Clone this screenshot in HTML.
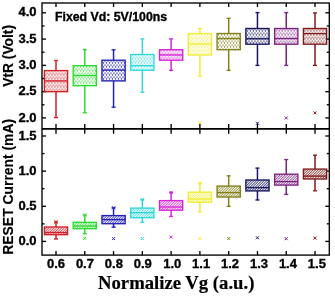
<!DOCTYPE html><html><head><meta charset="utf-8"><style>html,body{margin:0;padding:0;background:#fff;width:335px;height:297px;overflow:hidden}svg{display:block;will-change:transform;filter:blur(0.3px)}text{font-family:"Liberation Sans",sans-serif;font-weight:bold;fill:#000;stroke:#000;stroke-width:0.35px}</style></head><body>
<svg width="335" height="297" viewBox="0 0 335 297">
<defs>
<pattern id="pu0" width="3" height="4" patternUnits="userSpaceOnUse" x="44.40"><rect width="3" height="4" fill="#D41E26"/><ellipse cx="1.5" cy="1" rx="1.4" ry="1.05" fill="#fff"/><ellipse cx="0" cy="3" rx="1.4" ry="1.05" fill="#fff"/><ellipse cx="3" cy="3" rx="1.4" ry="1.05" fill="#fff"/></pattern>
<pattern id="pl0" width="1.8" height="3" patternUnits="userSpaceOnUse" patternTransform="rotate(45)"><rect width="1.8" height="3" fill="#D41E26"/><rect x="0" width="1.1" height="3" fill="#fff"/></pattern>
<pattern id="pu1" width="3" height="4" patternUnits="userSpaceOnUse" x="73.18"><rect width="3" height="4" fill="#2ADC30"/><ellipse cx="1.5" cy="1" rx="1.4" ry="1.05" fill="#fff"/><ellipse cx="0" cy="3" rx="1.4" ry="1.05" fill="#fff"/><ellipse cx="3" cy="3" rx="1.4" ry="1.05" fill="#fff"/></pattern>
<pattern id="pl1" width="1.8" height="3" patternUnits="userSpaceOnUse" patternTransform="rotate(45)"><rect width="1.8" height="3" fill="#2ADC30"/><rect x="0" width="1.1" height="3" fill="#fff"/></pattern>
<pattern id="pu2" width="3" height="4" patternUnits="userSpaceOnUse" x="101.96"><rect width="3" height="4" fill="#2222B8"/><ellipse cx="1.5" cy="1" rx="1.4" ry="1.05" fill="#fff"/><ellipse cx="0" cy="3" rx="1.4" ry="1.05" fill="#fff"/><ellipse cx="3" cy="3" rx="1.4" ry="1.05" fill="#fff"/></pattern>
<pattern id="pl2" width="1.8" height="3" patternUnits="userSpaceOnUse" patternTransform="rotate(45)"><rect width="1.8" height="3" fill="#2222B8"/><rect x="0" width="1.1" height="3" fill="#fff"/></pattern>
<pattern id="pu3" width="3" height="4" patternUnits="userSpaceOnUse" x="130.74"><rect width="3" height="4" fill="#30D8DC"/><ellipse cx="1.5" cy="1" rx="1.4" ry="1.05" fill="#fff"/><ellipse cx="0" cy="3" rx="1.4" ry="1.05" fill="#fff"/><ellipse cx="3" cy="3" rx="1.4" ry="1.05" fill="#fff"/></pattern>
<pattern id="pl3" width="1.8" height="3" patternUnits="userSpaceOnUse" patternTransform="rotate(45)"><rect width="1.8" height="3" fill="#30D8DC"/><rect x="0" width="1.1" height="3" fill="#fff"/></pattern>
<pattern id="pu4" width="3" height="4" patternUnits="userSpaceOnUse" x="159.52"><rect width="3" height="4" fill="#D624D6"/><ellipse cx="1.5" cy="1" rx="1.4" ry="1.05" fill="#fff"/><ellipse cx="0" cy="3" rx="1.4" ry="1.05" fill="#fff"/><ellipse cx="3" cy="3" rx="1.4" ry="1.05" fill="#fff"/></pattern>
<pattern id="pl4" width="1.8" height="3" patternUnits="userSpaceOnUse" patternTransform="rotate(45)"><rect width="1.8" height="3" fill="#D624D6"/><rect x="0" width="1.1" height="3" fill="#fff"/></pattern>
<pattern id="pu5" width="3" height="4" patternUnits="userSpaceOnUse" x="188.30"><rect width="3" height="4" fill="#F0EE36"/><ellipse cx="1.5" cy="1" rx="1.4" ry="1.05" fill="#fff"/><ellipse cx="0" cy="3" rx="1.4" ry="1.05" fill="#fff"/><ellipse cx="3" cy="3" rx="1.4" ry="1.05" fill="#fff"/></pattern>
<pattern id="pl5" width="1.8" height="3" patternUnits="userSpaceOnUse" patternTransform="rotate(45)"><rect width="1.8" height="3" fill="#F0EE36"/><rect x="0" width="1.1" height="3" fill="#fff"/></pattern>
<pattern id="pu6" width="3" height="4" patternUnits="userSpaceOnUse" x="217.08"><rect width="3" height="4" fill="#808016"/><ellipse cx="1.5" cy="1" rx="1.4" ry="1.05" fill="#fff"/><ellipse cx="0" cy="3" rx="1.4" ry="1.05" fill="#fff"/><ellipse cx="3" cy="3" rx="1.4" ry="1.05" fill="#fff"/></pattern>
<pattern id="pl6" width="1.8" height="3" patternUnits="userSpaceOnUse" patternTransform="rotate(45)"><rect width="1.8" height="3" fill="#808016"/><rect x="0" width="1.1" height="3" fill="#fff"/></pattern>
<pattern id="pu7" width="3" height="4" patternUnits="userSpaceOnUse" x="245.86"><rect width="3" height="4" fill="#16165E"/><ellipse cx="1.5" cy="1" rx="1.4" ry="1.05" fill="#fff"/><ellipse cx="0" cy="3" rx="1.4" ry="1.05" fill="#fff"/><ellipse cx="3" cy="3" rx="1.4" ry="1.05" fill="#fff"/></pattern>
<pattern id="pl7" width="1.8" height="3" patternUnits="userSpaceOnUse" patternTransform="rotate(45)"><rect width="1.8" height="3" fill="#16165E"/><rect x="0" width="1.1" height="3" fill="#fff"/></pattern>
<pattern id="pu8" width="3" height="4" patternUnits="userSpaceOnUse" x="274.64"><rect width="3" height="4" fill="#7E2282"/><ellipse cx="1.5" cy="1" rx="1.4" ry="1.05" fill="#fff"/><ellipse cx="0" cy="3" rx="1.4" ry="1.05" fill="#fff"/><ellipse cx="3" cy="3" rx="1.4" ry="1.05" fill="#fff"/></pattern>
<pattern id="pl8" width="1.8" height="3" patternUnits="userSpaceOnUse" patternTransform="rotate(45)"><rect width="1.8" height="3" fill="#7E2282"/><rect x="0" width="1.1" height="3" fill="#fff"/></pattern>
<pattern id="pu9" width="3" height="4" patternUnits="userSpaceOnUse" x="303.42"><rect width="3" height="4" fill="#7E1A1A"/><ellipse cx="1.5" cy="1" rx="1.4" ry="1.05" fill="#fff"/><ellipse cx="0" cy="3" rx="1.4" ry="1.05" fill="#fff"/><ellipse cx="3" cy="3" rx="1.4" ry="1.05" fill="#fff"/></pattern>
<pattern id="pl9" width="1.8" height="3" patternUnits="userSpaceOnUse" patternTransform="rotate(45)"><rect width="1.8" height="3" fill="#7E1A1A"/><rect x="0" width="1.1" height="3" fill="#fff"/></pattern>
</defs>
<g stroke="#000" stroke-width="1.35" fill="none">
<rect x="42" y="3" width="287.3" height="252.1"/>
<line x1="42" y1="128.8" x2="329.3" y2="128.8" stroke-width="1.7"/>
<line x1="56.00" y1="3" x2="56.00" y2="7"/>
<line x1="56.00" y1="123.9" x2="56.00" y2="133.8"/>
<line x1="56.00" y1="251.1" x2="56.00" y2="255.1"/>
<line x1="84.78" y1="3" x2="84.78" y2="7"/>
<line x1="84.78" y1="123.9" x2="84.78" y2="133.8"/>
<line x1="84.78" y1="251.1" x2="84.78" y2="255.1"/>
<line x1="113.56" y1="3" x2="113.56" y2="7"/>
<line x1="113.56" y1="123.9" x2="113.56" y2="133.8"/>
<line x1="113.56" y1="251.1" x2="113.56" y2="255.1"/>
<line x1="142.34" y1="3" x2="142.34" y2="7"/>
<line x1="142.34" y1="123.9" x2="142.34" y2="133.8"/>
<line x1="142.34" y1="251.1" x2="142.34" y2="255.1"/>
<line x1="171.12" y1="3" x2="171.12" y2="7"/>
<line x1="171.12" y1="123.9" x2="171.12" y2="133.8"/>
<line x1="171.12" y1="251.1" x2="171.12" y2="255.1"/>
<line x1="199.90" y1="3" x2="199.90" y2="7"/>
<line x1="199.90" y1="123.9" x2="199.90" y2="133.8"/>
<line x1="199.90" y1="251.1" x2="199.90" y2="255.1"/>
<line x1="228.68" y1="3" x2="228.68" y2="7"/>
<line x1="228.68" y1="123.9" x2="228.68" y2="133.8"/>
<line x1="228.68" y1="251.1" x2="228.68" y2="255.1"/>
<line x1="257.46" y1="3" x2="257.46" y2="7"/>
<line x1="257.46" y1="123.9" x2="257.46" y2="133.8"/>
<line x1="257.46" y1="251.1" x2="257.46" y2="255.1"/>
<line x1="286.24" y1="3" x2="286.24" y2="7"/>
<line x1="286.24" y1="123.9" x2="286.24" y2="133.8"/>
<line x1="286.24" y1="251.1" x2="286.24" y2="255.1"/>
<line x1="315.02" y1="3" x2="315.02" y2="7"/>
<line x1="315.02" y1="123.9" x2="315.02" y2="133.8"/>
<line x1="315.02" y1="251.1" x2="315.02" y2="255.1"/>
<line x1="42" y1="12.80" x2="46" y2="12.80"/>
<line x1="325.3" y1="12.80" x2="329.3" y2="12.80"/>
<line x1="42" y1="25.94" x2="44.5" y2="25.94"/>
<line x1="326.8" y1="25.94" x2="329.3" y2="25.94"/>
<line x1="42" y1="39.08" x2="46" y2="39.08"/>
<line x1="325.3" y1="39.08" x2="329.3" y2="39.08"/>
<line x1="42" y1="52.22" x2="44.5" y2="52.22"/>
<line x1="326.8" y1="52.22" x2="329.3" y2="52.22"/>
<line x1="42" y1="65.36" x2="46" y2="65.36"/>
<line x1="325.3" y1="65.36" x2="329.3" y2="65.36"/>
<line x1="42" y1="78.50" x2="44.5" y2="78.50"/>
<line x1="326.8" y1="78.50" x2="329.3" y2="78.50"/>
<line x1="42" y1="91.64" x2="46" y2="91.64"/>
<line x1="325.3" y1="91.64" x2="329.3" y2="91.64"/>
<line x1="42" y1="104.78" x2="44.5" y2="104.78"/>
<line x1="326.8" y1="104.78" x2="329.3" y2="104.78"/>
<line x1="42" y1="117.92" x2="46" y2="117.92"/>
<line x1="325.3" y1="117.92" x2="329.3" y2="117.92"/>
<line x1="42" y1="136.00" x2="46" y2="136.00"/>
<line x1="325.3" y1="136.00" x2="329.3" y2="136.00"/>
<line x1="42" y1="153.57" x2="44.5" y2="153.57"/>
<line x1="326.8" y1="153.57" x2="329.3" y2="153.57"/>
<line x1="42" y1="171.14" x2="46" y2="171.14"/>
<line x1="325.3" y1="171.14" x2="329.3" y2="171.14"/>
<line x1="42" y1="188.71" x2="44.5" y2="188.71"/>
<line x1="326.8" y1="188.71" x2="329.3" y2="188.71"/>
<line x1="42" y1="206.28" x2="46" y2="206.28"/>
<line x1="325.3" y1="206.28" x2="329.3" y2="206.28"/>
<line x1="42" y1="223.85" x2="44.5" y2="223.85"/>
<line x1="326.8" y1="223.85" x2="329.3" y2="223.85"/>
<line x1="42" y1="241.42" x2="46" y2="241.42"/>
<line x1="325.3" y1="241.42" x2="329.3" y2="241.42"/>
</g>
<g stroke="#D41E26" stroke-width="1.35">
<line x1="56.00" y1="60.5" x2="56.00" y2="117.6" stroke-width="1.5"/>
<line x1="54.00" y1="60.5" x2="58.00" y2="60.5"/>
<line x1="54.00" y1="117.6" x2="58.00" y2="117.6"/>
<rect x="44.40" y="70.6" width="23.2" height="21.10" fill="url(#pu0)"/>
<line x1="44.40" y1="80.9" x2="67.60" y2="80.9"/>
</g>
<g stroke="#2ADC30" stroke-width="1.35">
<line x1="84.78" y1="49.7" x2="84.78" y2="112.7" stroke-width="1.5"/>
<line x1="82.78" y1="49.7" x2="86.78" y2="49.7"/>
<line x1="82.78" y1="112.7" x2="86.78" y2="112.7"/>
<rect x="73.18" y="65.7" width="23.2" height="20.00" fill="url(#pu1)"/>
<line x1="73.18" y1="75.6" x2="96.38" y2="75.6"/>
</g>
<g stroke="#2222B8" stroke-width="1.35">
<line x1="113.56" y1="49.8" x2="113.56" y2="107.2" stroke-width="1.5"/>
<line x1="111.56" y1="49.8" x2="115.56" y2="49.8"/>
<line x1="111.56" y1="107.2" x2="115.56" y2="107.2"/>
<rect x="101.96" y="60.2" width="23.2" height="20.70" fill="url(#pu2)"/>
<line x1="101.96" y1="70.1" x2="125.16" y2="70.1"/>
</g>
<g stroke="#30D8DC" stroke-width="1.35">
<line x1="142.34" y1="38.9" x2="142.34" y2="92.2" stroke-width="1.5"/>
<line x1="140.34" y1="38.9" x2="144.34" y2="38.9"/>
<line x1="140.34" y1="92.2" x2="144.34" y2="92.2"/>
<rect x="130.74" y="54.5" width="23.2" height="15.70" fill="url(#pu3)"/>
<line x1="130.74" y1="65.7" x2="153.94" y2="65.7"/>
</g>
<g stroke="#D624D6" stroke-width="1.35">
<line x1="171.12" y1="38.9" x2="171.12" y2="70.3" stroke-width="1.5"/>
<line x1="169.12" y1="38.9" x2="173.12" y2="38.9"/>
<line x1="169.12" y1="70.3" x2="173.12" y2="70.3"/>
<rect x="159.52" y="49.7" width="23.2" height="10.50" fill="url(#pu4)"/>
<line x1="159.52" y1="55" x2="182.72" y2="55"/>
</g>
<g stroke="#F0EE36" stroke-width="1.35">
<line x1="199.90" y1="28.6" x2="199.90" y2="76" stroke-width="1.5"/>
<line x1="197.90" y1="28.6" x2="201.90" y2="28.6"/>
<line x1="197.90" y1="76" x2="201.90" y2="76"/>
<rect x="188.30" y="33.6" width="23.2" height="21.40" fill="url(#pu5)"/>
<line x1="188.30" y1="44" x2="211.50" y2="44"/>
</g>
<g stroke="#F0EE36" stroke-width="1"><line x1="198.40" y1="121.4" x2="201.40" y2="124.4"/><line x1="198.40" y1="124.4" x2="201.40" y2="121.4"/></g>
<g stroke="#808016" stroke-width="1.35">
<line x1="228.68" y1="18.3" x2="228.68" y2="70.4" stroke-width="1.5"/>
<line x1="226.68" y1="18.3" x2="230.68" y2="18.3"/>
<line x1="226.68" y1="70.4" x2="230.68" y2="70.4"/>
<rect x="217.08" y="33.5" width="23.2" height="16.20" fill="url(#pu6)"/>
<line x1="217.08" y1="38.6" x2="240.28" y2="38.6"/>
</g>
<g stroke="#16165E" stroke-width="1.35">
<line x1="257.46" y1="12.6" x2="257.46" y2="65.4" stroke-width="1.5"/>
<line x1="255.46" y1="12.6" x2="259.46" y2="12.6"/>
<line x1="255.46" y1="65.4" x2="259.46" y2="65.4"/>
<rect x="245.86" y="28.5" width="23.2" height="15.70" fill="url(#pu7)"/>
<line x1="245.86" y1="38.8" x2="269.06" y2="38.8"/>
</g>
<g stroke="#16165E" stroke-width="1"><line x1="255.96" y1="121.7" x2="258.96" y2="124.7"/><line x1="255.96" y1="124.7" x2="258.96" y2="121.7"/></g>
<g stroke="#7E2282" stroke-width="1.35">
<line x1="286.24" y1="12.6" x2="286.24" y2="65.4" stroke-width="1.5"/>
<line x1="284.24" y1="12.6" x2="288.24" y2="12.6"/>
<line x1="284.24" y1="65.4" x2="288.24" y2="65.4"/>
<rect x="274.64" y="28.5" width="23.2" height="15.70" fill="url(#pu8)"/>
<line x1="274.64" y1="38.6" x2="297.84" y2="38.6"/>
</g>
<g stroke="#7E2282" stroke-width="1"><line x1="284.74" y1="116.4" x2="287.74" y2="119.4"/><line x1="284.74" y1="119.4" x2="287.74" y2="116.4"/></g>
<g stroke="#7E1A1A" stroke-width="1.35">
<line x1="315.02" y1="12.9" x2="315.02" y2="65.4" stroke-width="1.5"/>
<line x1="313.02" y1="12.9" x2="317.02" y2="12.9"/>
<line x1="313.02" y1="65.4" x2="317.02" y2="65.4"/>
<rect x="303.42" y="28.5" width="23.2" height="15.70" fill="url(#pu9)"/>
<line x1="303.42" y1="33.6" x2="326.62" y2="33.6"/>
</g>
<g stroke="#7E1A1A" stroke-width="1"><line x1="313.52" y1="111.4" x2="316.52" y2="114.4"/><line x1="313.52" y1="114.4" x2="316.52" y2="111.4"/></g>
<g stroke="#D41E26" stroke-width="1.35">
<line x1="56.00" y1="222" x2="56.00" y2="239" stroke-width="1.5"/>
<line x1="54.00" y1="222" x2="58.00" y2="222"/>
<line x1="54.00" y1="239" x2="58.00" y2="239"/>
<rect x="44.40" y="227" width="23.2" height="7.70" fill="url(#pl0)"/>
<line x1="44.40" y1="232.5" x2="67.60" y2="232.5"/>
</g>
<g stroke="#D41E26" stroke-width="1"><line x1="54.40" y1="220.4" x2="57.60" y2="223.6"/><line x1="54.40" y1="223.6" x2="57.60" y2="220.4"/></g>
<g stroke="#2ADC30" stroke-width="1.35">
<line x1="84.78" y1="215" x2="84.78" y2="233.7" stroke-width="1.5"/>
<line x1="82.78" y1="215" x2="86.78" y2="215"/>
<line x1="82.78" y1="233.7" x2="86.78" y2="233.7"/>
<rect x="73.18" y="222.3" width="23.2" height="6.40" fill="url(#pl1)"/>
<line x1="73.18" y1="226" x2="96.38" y2="226"/>
</g>
<g stroke="#2ADC30" stroke-width="1"><line x1="83.18" y1="213.4" x2="86.38" y2="216.6"/><line x1="83.18" y1="216.6" x2="86.38" y2="213.4"/></g>
<g stroke="#2ADC30" stroke-width="1"><line x1="83.28" y1="236.8" x2="86.28" y2="239.8"/><line x1="83.28" y1="239.8" x2="86.28" y2="236.8"/></g>
<g stroke="#2222B8" stroke-width="1.35">
<line x1="113.56" y1="207.8" x2="113.56" y2="227.2" stroke-width="1.5"/>
<line x1="111.56" y1="207.8" x2="115.56" y2="207.8"/>
<line x1="111.56" y1="227.2" x2="115.56" y2="227.2"/>
<rect x="101.96" y="215.6" width="23.2" height="8.10" fill="url(#pl2)"/>
<line x1="101.96" y1="219.6" x2="125.16" y2="219.6"/>
</g>
<g stroke="#2222B8" stroke-width="1"><line x1="111.96" y1="206.20000000000002" x2="115.16" y2="209.4"/><line x1="111.96" y1="209.4" x2="115.16" y2="206.20000000000002"/></g>
<g stroke="#2222B8" stroke-width="1"><line x1="112.06" y1="237.1" x2="115.06" y2="240.1"/><line x1="112.06" y1="240.1" x2="115.06" y2="237.1"/></g>
<g stroke="#30D8DC" stroke-width="1.35">
<line x1="142.34" y1="199.5" x2="142.34" y2="222.3" stroke-width="1.5"/>
<line x1="140.34" y1="199.5" x2="144.34" y2="199.5"/>
<line x1="140.34" y1="222.3" x2="144.34" y2="222.3"/>
<rect x="130.74" y="208.1" width="23.2" height="9.60" fill="url(#pl3)"/>
<line x1="130.74" y1="212.7" x2="153.94" y2="212.7"/>
</g>
<g stroke="#30D8DC" stroke-width="1"><line x1="140.74" y1="197.9" x2="143.94" y2="201.1"/><line x1="140.74" y1="201.1" x2="143.94" y2="197.9"/></g>
<g stroke="#30D8DC" stroke-width="1"><line x1="140.84" y1="237.0" x2="143.84" y2="240.0"/><line x1="140.84" y1="240.0" x2="143.84" y2="237.0"/></g>
<g stroke="#D624D6" stroke-width="1.35">
<line x1="171.12" y1="192.4" x2="171.12" y2="216.4" stroke-width="1.5"/>
<line x1="169.12" y1="192.4" x2="173.12" y2="192.4"/>
<line x1="169.12" y1="216.4" x2="173.12" y2="216.4"/>
<rect x="159.52" y="200.6" width="23.2" height="9.60" fill="url(#pl4)"/>
<line x1="159.52" y1="207" x2="182.72" y2="207"/>
</g>
<g stroke="#D624D6" stroke-width="1"><line x1="169.52" y1="190.8" x2="172.72" y2="194.0"/><line x1="169.52" y1="194.0" x2="172.72" y2="190.8"/></g>
<g stroke="#D624D6" stroke-width="1"><line x1="169.62" y1="235.6" x2="172.62" y2="238.6"/><line x1="169.62" y1="238.6" x2="172.62" y2="235.6"/></g>
<g stroke="#F0EE36" stroke-width="1.35">
<line x1="199.90" y1="183.1" x2="199.90" y2="211.8" stroke-width="1.5"/>
<line x1="197.90" y1="183.1" x2="201.90" y2="183.1"/>
<line x1="197.90" y1="211.8" x2="201.90" y2="211.8"/>
<rect x="188.30" y="192.2" width="23.2" height="10.00" fill="url(#pl5)"/>
<line x1="188.30" y1="199" x2="211.50" y2="199"/>
</g>
<g stroke="#F0EE36" stroke-width="1"><line x1="198.30" y1="181.5" x2="201.50" y2="184.7"/><line x1="198.30" y1="184.7" x2="201.50" y2="181.5"/></g>
<g stroke="#F0EE36" stroke-width="1"><line x1="198.40" y1="236.9" x2="201.40" y2="239.9"/><line x1="198.40" y1="239.9" x2="201.40" y2="236.9"/></g>
<g stroke="#808016" stroke-width="1.35">
<line x1="228.68" y1="175.8" x2="228.68" y2="206.3" stroke-width="1.5"/>
<line x1="226.68" y1="175.8" x2="230.68" y2="175.8"/>
<line x1="226.68" y1="206.3" x2="230.68" y2="206.3"/>
<rect x="217.08" y="186.1" width="23.2" height="10.90" fill="url(#pl6)"/>
<line x1="217.08" y1="192.6" x2="240.28" y2="192.6"/>
</g>
<g stroke="#808016" stroke-width="1"><line x1="227.18" y1="237.0" x2="230.18" y2="240.0"/><line x1="227.18" y1="240.0" x2="230.18" y2="237.0"/></g>
<g stroke="#16165E" stroke-width="1.35">
<line x1="257.46" y1="168.1" x2="257.46" y2="200" stroke-width="1.5"/>
<line x1="255.46" y1="168.1" x2="259.46" y2="168.1"/>
<line x1="255.46" y1="200" x2="259.46" y2="200"/>
<rect x="245.86" y="180" width="23.2" height="10.90" fill="url(#pl7)"/>
<line x1="245.86" y1="187.6" x2="269.06" y2="187.6"/>
</g>
<g stroke="#16165E" stroke-width="1"><line x1="255.96" y1="236.3" x2="258.96" y2="239.3"/><line x1="255.96" y1="239.3" x2="258.96" y2="236.3"/></g>
<g stroke="#7E2282" stroke-width="1.35">
<line x1="286.24" y1="159.6" x2="286.24" y2="194.4" stroke-width="1.5"/>
<line x1="284.24" y1="159.6" x2="288.24" y2="159.6"/>
<line x1="284.24" y1="194.4" x2="288.24" y2="194.4"/>
<rect x="274.64" y="174.2" width="23.2" height="10.90" fill="url(#pl8)"/>
<line x1="274.64" y1="181.6" x2="297.84" y2="181.6"/>
</g>
<g stroke="#7E2282" stroke-width="1"><line x1="284.74" y1="237.2" x2="287.74" y2="240.2"/><line x1="284.74" y1="240.2" x2="287.74" y2="237.2"/></g>
<g stroke="#7E1A1A" stroke-width="1.35">
<line x1="315.02" y1="155.2" x2="315.02" y2="190.8" stroke-width="1.5"/>
<line x1="313.02" y1="155.2" x2="317.02" y2="155.2"/>
<line x1="313.02" y1="190.8" x2="317.02" y2="190.8"/>
<rect x="303.42" y="169.1" width="23.2" height="9.90" fill="url(#pl9)"/>
<line x1="303.42" y1="176.1" x2="326.62" y2="176.1"/>
</g>
<g stroke="#7E1A1A" stroke-width="1"><line x1="313.52" y1="236.6" x2="316.52" y2="239.6"/><line x1="313.52" y1="239.6" x2="316.52" y2="236.6"/></g>
<text x="36.5" y="16.40" font-size="13" text-anchor="end">4.0</text>
<text x="36.5" y="42.68" font-size="13" text-anchor="end">3.5</text>
<text x="36.5" y="68.96" font-size="13" text-anchor="end">3.0</text>
<text x="36.5" y="95.24" font-size="13" text-anchor="end">2.5</text>
<text x="36.5" y="121.52" font-size="13" text-anchor="end">2.0</text>
<text x="36.5" y="139.60" font-size="13" text-anchor="end">1.5</text>
<text x="36.5" y="174.74" font-size="13" text-anchor="end">1.0</text>
<text x="36.5" y="209.88" font-size="13" text-anchor="end">0.5</text>
<text x="36.5" y="245.02" font-size="13" text-anchor="end">0.0</text>
<text x="56.00" y="267.6" font-size="13" text-anchor="middle">0.6</text>
<text x="84.93" y="267.6" font-size="13" text-anchor="middle">0.7</text>
<text x="113.86" y="267.6" font-size="13" text-anchor="middle">0.8</text>
<text x="142.79" y="267.6" font-size="13" text-anchor="middle">0.9</text>
<text x="172.22" y="267.6" font-size="13" text-anchor="middle">1.0</text>
<text x="201.15" y="267.6" font-size="13" text-anchor="middle">1.1</text>
<text x="230.08" y="267.6" font-size="13" text-anchor="middle">1.2</text>
<text x="259.01" y="267.6" font-size="13" text-anchor="middle">1.3</text>
<text x="287.94" y="267.6" font-size="13" text-anchor="middle">1.4</text>
<text x="316.87" y="267.6" font-size="13" text-anchor="middle">1.5</text>
<text x="55" y="21.2" font-size="12.3">Fixed Vd: 5V/100ns</text>
<text transform="translate(12.6,86.8) rotate(-90)" font-size="13.8" style="stroke-width:0.15px">VtR (Volt)</text>
<text transform="translate(12.6,254.7) rotate(-90)" font-size="13.9" style="stroke-width:0.15px">RESET Current (mA)</text>
<text x="98" y="289" font-size="18.7" style="font-family:'Liberation Serif',serif;stroke-width:0.2px">Normalize Vg (a.u.)</text>
</svg></body></html>
